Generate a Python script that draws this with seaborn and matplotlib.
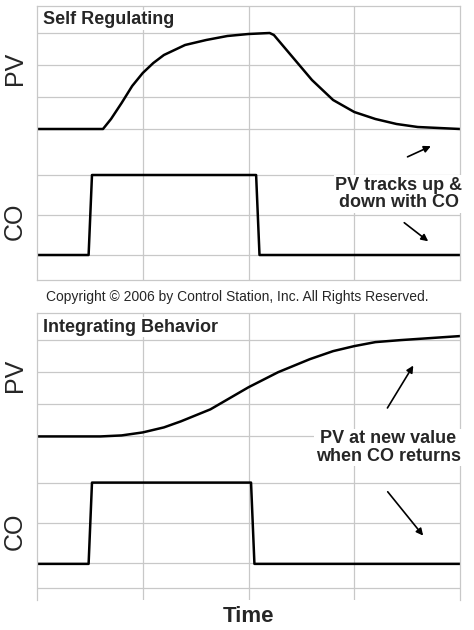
import matplotlib
matplotlib.use("Agg")
import matplotlib.pyplot as plt
import seaborn as sns
import pandas as pd

sns.set_style("white")
plt.rcParams['font.family'] = ['Liberation Sans', 'DejaVu Sans']

# Self regulating PV (time, value)
sr_t = [0, 15.6, 17.5, 20, 22.5, 25, 27.5, 30, 35, 40, 45, 50, 55, 56, 57, 60, 65, 70, 75, 80, 85, 90, 95, 100]
sr_pv = [151, 151, 161, 177, 194, 207, 217, 225, 235, 240, 244, 246, 247, 245, 240, 225, 200, 180, 168, 161, 156, 153, 152, 151]
sr_co_t = [0, 12.2, 13.0, 51.8, 52.6, 100]
sr_co = [25, 25, 105, 105, 25, 25]

# Integrating PV
in_t = [0, 15, 20, 25, 30, 34, 41, 50, 57, 64.5, 70, 75, 80, 86, 93, 100]
in_pv = [151, 151, 152, 155, 160, 166, 178, 200, 215, 228, 236, 241, 245, 247, 249, 251]
in_co_t = [0, 12.2, 13.0, 50.6, 51.4, 100]
in_co = [24, 24, 105, 105, 24, 24]

grid_y = [25, 65, 105, 151, 183, 215, 247]
grid_x = [25, 50, 75]

fig = plt.figure(figsize=(4.74, 6.3), dpi=100)
W, H = 474, 630
ax1 = fig.add_axes([37/W, (H-280)/H, 423/W, 274/H])
ax2 = fig.add_axes([37/W, (H-600)/H, 423/W, 287/H])

def setup(ax, ylo):
    ax.set_xlim(0, 100)
    ax.set_ylim(ylo, 274)
    for y in grid_y:
        ax.axhline(y, color='#c8c8c8', lw=0.9, zorder=0)
    for x in grid_x:
        ax.axvline(x, color='#c8c8c8', lw=0.9, zorder=0)
    ax.set_xticks([]); ax.set_yticks([])
    for s in ax.spines.values():
        s.set_color('#c8c8c8'); s.set_linewidth(0.9)

def draw(ax, t, pv, ct, co):
    sns.lineplot(x=t, y=pv, ax=ax, color='black', lw=1.8, estimator=None, sort=False)
    sns.lineplot(x=ct, y=co, ax=ax, color='black', lw=1.8, estimator=None, sort=False)
    ax.set_xlabel(''); ax.set_ylabel('')

setup(ax1, 0)
draw(ax1, sr_t, sr_pv, sr_co_t, sr_co)
setup(ax2, -12)
ax2.spines['bottom'].set_visible(False)
ax2.axhline(0, color='#c8c8c8', lw=0.9, zorder=0)
draw(ax2, in_t, in_pv, in_co_t, in_co)

box = dict(facecolor='white', edgecolor='none', pad=1)
ax1.text(1.5, 260, 'Self Regulating', fontsize=13, fontweight='bold', va='center', ha='left', bbox=box)
ax2.text(1.5, 260, 'Integrating Behavior', fontsize=13, fontweight='bold', va='center', ha='left', bbox=box)

ax1.text(85.5, 86, 'PV tracks up &\ndown with CO', fontsize=13, fontweight='bold', ha='center', va='center',
         linespacing=1.05, bbox=box)
ax1.annotate('', xy=(93.7, 135), xytext=(87, 122), arrowprops=dict(arrowstyle='-|>', color='black', lw=1.2))
ax1.annotate('', xy=(93, 37), xytext=(86.3, 59), arrowprops=dict(arrowstyle='-|>', color='black', lw=1.2))

ax2.text(83, 140, 'PV at new value\nwhen CO returns', fontsize=13, fontweight='bold', ha='center', va='center',
         linespacing=1.05, bbox=box)
ax2.annotate('', xy=(89.3, 224), xytext=(82.5, 177), arrowprops=dict(arrowstyle='-|>', color='black', lw=1.2))
ax2.annotate('', xy=(91.7, 50), xytext=(82.5, 98), arrowprops=dict(arrowstyle='-|>', color='black', lw=1.2))

for yy, lab in [(68, 'PV'), (221, 'CO'), (375, 'PV'), (531, 'CO')]:
    fig.text(15/W, 1-yy/H, lab, rotation=90, fontsize=18, ha='center', va='center')
fig.text(237/W, 1-297/H, 'Copyright © 2006 by Control Station, Inc. All Rights Reserved.', fontsize=10,
         ha='center', va='center')
fig.text(248/W, 1-616/H, 'Time', fontsize=16, fontweight='bold', ha='center', va='center')

fig.savefig('out.png', dpi=100)
